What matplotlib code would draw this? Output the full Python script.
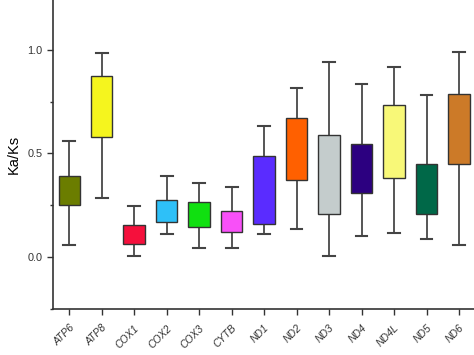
import matplotlib
matplotlib.use("Agg")
import matplotlib.pyplot as plt
from matplotlib.ticker import MultipleLocator

plt.rcParams['font.family'] = ['Liberation Sans', 'DejaVu Sans']

genes = ["ATP6", "ATP8", "COX1", "COX2", "COX3", "CYTB", "ND1", "ND2", "ND3", "ND4", "ND4L", "ND5", "ND6"]
whislo = [0.058, 0.285, 0.005, 0.110, 0.043, 0.043, 0.113, 0.135, 0.005, 0.099, 0.118, 0.085, 0.060]
q1 =     [0.250, 0.580, 0.063, 0.170, 0.145, 0.121, 0.160, 0.370, 0.205, 0.308, 0.380, 0.207, 0.447]
q3 =     [0.390, 0.874, 0.155, 0.275, 0.266, 0.222, 0.485, 0.670, 0.590, 0.546, 0.731, 0.450, 0.785]
whishi = [0.560, 0.985, 0.246, 0.390, 0.357, 0.338, 0.633, 0.815, 0.942, 0.835, 0.916, 0.780, 0.987]
colors = ["#6b7d00", "#f5f51e", "#f5103c", "#2ec0f8", "#10e010", "#f850f8", "#5a2cff",
          "#ff6000", "#c4cccc", "#2c0080", "#f8f878", "#006848", "#cc7a28"]

stats = []
for g, lo, a, b, hi in zip(genes, whislo, q1, q3, whishi):
    stats.append(dict(label=g, whislo=lo, q1=a, med=(a + b) / 2, q3=b, whishi=hi, fliers=[]))

fig = plt.figure(figsize=(4.74, 3.55), dpi=100)
ax = fig.add_axes([53/474, 46/355, 1 - 53/474, 1 - 46/355])

positions = list(range(1, len(genes) + 1))
bp = ax.bxp(stats, positions=positions, widths=0.66, patch_artist=True, showfliers=False,
            boxprops=dict(edgecolor="#333333", linewidth=1.0),
            whiskerprops=dict(color="#555555", linewidth=1.4),
            capprops=dict(color="#444444", linewidth=1.5),
            medianprops=dict(visible=False))
for patch, c in zip(bp['boxes'], colors):
    patch.set_facecolor(c)
    patch.set_zorder(3)
for cap in bp['caps']:
    x0, x1 = cap.get_xdata()
    m = (x0 + x1) / 2
    cap.set_xdata([m - 0.18, m + 0.18])

ax.set_xlim(0.5, 13.46)
ax.set_ylim(-0.251, 1.24)
ax.yaxis.set_minor_locator(MultipleLocator(0.25))
ax.set_yticks([0.0, 0.5, 1.0])
ax.set_yticklabels(["0.0", "0.5", "1.0"])
ax.tick_params(axis='y', which='major', length=4, width=1.0, labelsize=7.8, color="#333333", labelcolor="#333333")
ax.tick_params(axis='y', which='minor', length=2.5, width=1.0, color="#333333")
ax.set_xticks(positions)
ax.set_xticklabels(genes, rotation=45, ha='right', rotation_mode='anchor', fontsize=7.5, style='italic', color="#333333")
ax.tick_params(axis='x', length=4, width=1.0, color="#333333", pad=6)
ax.set_ylabel("Ka/Ks", fontsize=10.5, labelpad=5)

for s in ['top', 'right']:
    ax.spines[s].set_visible(False)
for s in ['left', 'bottom']:
    ax.spines[s].set_linewidth(1.2)
    ax.spines[s].set_color("#333333")

fig.savefig("out.png", dpi=100)
